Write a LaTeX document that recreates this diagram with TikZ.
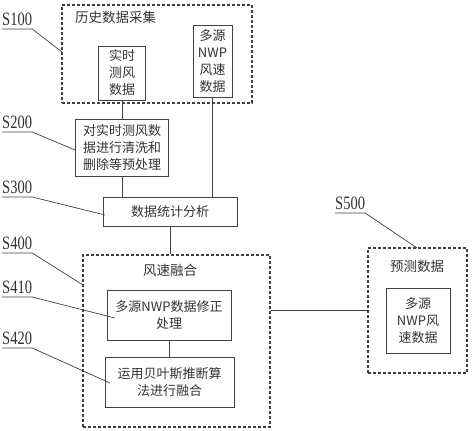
\documentclass[tikz,border=0pt]{standalone}
\usepackage{fontspec}
\usepackage{graphicx}
\setmainfont{Liberation Serif}
\newfontfamily\cjk{Noto Sans CJK SC}
\newcommand{\tallab}[1]{\scalebox{1}[1.3]{#1}}
\begin{document}
\begin{tikzpicture}[x=1pt,y=-1pt,
  ink/.style={draw=black!75},
  solidbox/.style={ink, line width=0.8pt, inner sep=0pt, align=center,
    text=black!80, font=\cjk\fontsize{13}{17}\selectfont},
  dashbox/.style={ink, line width=1.3pt, dash pattern=on 3pt off 2pt, inner sep=0pt},
  title/.style={inner sep=0pt, text=black!80, font=\cjk\fontsize{13.5}{17}\selectfont},
  lab/.style={inner sep=0pt, anchor=south west, text=black!80, font=\fontsize{14.5}{14.5}\selectfont},
  leader/.style={ink, line width=0.7pt},
  conn/.style={ink, line width=0.8pt}]
\useasboundingbox (0,0) rectangle (474,431);

% boxes
\node[dashbox, minimum width=190, minimum height=98] (s100) at (157,54) {};
\node[title, anchor=west] (t100) at (75,17) {历史数据采集};
\node[solidbox, minimum width=47, minimum height=54] (shi) at (122,73) {实时\\测风\\数据};
\node[solidbox, minimum width=39, minimum height=72] (nwp) at (212.5,61) {多源\\NWP\\风速\\数据};
\node[solidbox, minimum width=93, minimum height=57] (s200) at (122,147.5) {对实时测风数\\据进行清洗和\\删除等预处理};
\node[solidbox, minimum width=134, minimum height=29] (s300) at (170,211.5) {数据统计分析};
\node[dashbox, minimum width=187, minimum height=172] (s400) at (176.5,341) {};
\node[title] (t400) at (170,270) {风速融合};
\node[solidbox, minimum width=124, minimum height=50] (s410) at (169,315) {多源NWP数据修正\\处理};
\node[solidbox, minimum width=129, minimum height=50] (s420) at (169.5,382) {运用贝叶斯推断算\\法进行融合};
\node[dashbox, minimum width=99, minimum height=125] (s500) at (417.5,310.5) {};
\node[title] (t500) at (417,266) {预测数据};
\node[solidbox, minimum width=64, minimum height=65] (s510) at (418,320.5) {多源\\NWP风\\速数据};

% connectors
\draw[conn] (shi.south) -- (s200.north);
\draw[conn] (s200.south) -- (s200.south |- s300.north);
\draw[conn] (nwp.south) -- (nwp.south |- s300.north);
\draw[conn] (s300.south) -- (s300.south |- s400.north);
\draw[conn] (s410.south) -- (s410.south |- s420.north);
\draw[conn] (s500.west -| s400.east) -- (s500.west);

% labels with leaders
\coordinate (p100) at (62,52);
\coordinate (p200) at (75,150);
\coordinate (p300) at (105,215);
\coordinate (p400) at (83,285);
\coordinate (p410) at (115,318);
\coordinate (p420) at (110,383);
\coordinate (p500) at (417,248);

\node[lab] (l100) at (2,26) {\tallab{S100}};
\node[lab] (l200) at (2,129) {\tallab{S200}};
\node[lab] (l300) at (2,194) {\tallab{S300}};
\node[lab] (l400) at (2,250) {\tallab{S400}};
\node[lab] (l410) at (2,294) {\tallab{S410}};
\node[lab] (l420) at (2,345) {\tallab{S420}};
\node[lab] (l500) at (335,210) {\tallab{S500}};

\foreach \n in {100,200,300,400,410,420,500}{
  \draw[leader] ([yshift=-3pt]l\n.south west) -- ([yshift=-3pt]l\n.south east) -- (p\n);
}
\end{tikzpicture}
\end{document}
